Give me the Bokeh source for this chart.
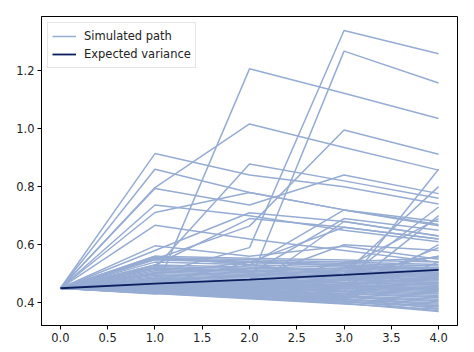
from bokeh.plotting import figure
from bokeh.models import Range1d, FixedTicker, PrintfTickFormatter
from bokeh.embed import file_html
from bokeh.resources import INLINE

steps = [0, 1, 2, 3, 4]
x_ticks = [0.0, 0.5, 1.0, 1.5, 2.0, 2.5, 3.0, 3.5, 4.0]
y_ticks = [0.4, 0.6, 0.8, 1.0, 1.2]

expected_variance = [0.450, 0.466, 0.480, 0.496, 0.513]

# upper, clearly visible simulated paths (values at steps 0..4)
paths_upper = [
    [0.45, 0.50, 0.59, 1.338, 1.258],
    [0.45, 0.47, 0.47, 1.267, 1.157],
    [0.45, 0.44, 1.206, 1.122, 1.035],
    [0.45, 0.797, 1.016, 0.935, 0.857],
    [0.45, 0.55, 0.664, 0.995, 0.912],
    [0.45, 0.914, 0.84, 0.80, 0.74],
    [0.45, 0.86, 0.78, 0.72, 0.67],
    [0.45, 0.794, 0.737, 0.84, 0.776],
    [0.45, 0.52, 0.878, 0.82, 0.76],
    [0.45, 0.737, 0.70, 0.65, 0.61],
    [0.45, 0.711, 0.78, 0.72, 0.665],
    [0.45, 0.667, 0.62, 0.58, 0.54],
    [0.45, 0.596, 0.56, 0.595, 0.55],
    [0.45, 0.58, 0.71, 0.68, 0.63],
    [0.45, 0.53, 0.69, 0.66, 0.62],
    [0.45, 0.48, 0.53, 0.72, 0.68],
    [0.45, 0.47, 0.50, 0.69, 0.65],
    [0.45, 0.46, 0.48, 0.60, 0.58],
    [0.45, 0.44, 0.43, 0.45, 0.86],
    [0.45, 0.46, 0.44, 0.50, 0.80],
    [0.45, 0.43, 0.47, 0.48, 0.73],
    [0.45, 0.48, 0.46, 0.44, 0.70],
    [0.45, 0.44, 0.45, 0.52, 0.69],
    [0.45, 0.45, 0.43, 0.42, 0.60],
    [0.45, 0.47, 0.45, 0.46, 0.59],
    [0.45, 0.46, 0.45, 0.68, 0.63],
    [0.45, 0.55, 0.54, 0.66, 0.62],
    [0.45, 0.56, 0.53, 0.50, 0.56],
]

# dense lower cluster of simulated paths (values at steps 0..4)
paths_lower = [
    [0.45, 0.432, 0.414, 0.396, 0.378],
    [0.45, 0.433, 0.416, 0.398, 0.370],
    [0.45, 0.435, 0.418, 0.402, 0.385],
    [0.45, 0.437, 0.420, 0.405, 0.390],
    [0.45, 0.438, 0.423, 0.407, 0.372],
    [0.45, 0.440, 0.425, 0.410, 0.395],
    [0.45, 0.441, 0.428, 0.412, 0.399],
    [0.45, 0.443, 0.430, 0.415, 0.380],
    [0.45, 0.444, 0.432, 0.418, 0.404],
    [0.45, 0.446, 0.434, 0.421, 0.408],
    [0.45, 0.447, 0.437, 0.424, 0.412],
    [0.45, 0.449, 0.439, 0.427, 0.388],
    [0.45, 0.450, 0.441, 0.430, 0.417],
    [0.45, 0.452, 0.444, 0.433, 0.421],
    [0.45, 0.454, 0.447, 0.437, 0.425],
    [0.45, 0.456, 0.450, 0.440, 0.430],
    [0.45, 0.458, 0.452, 0.444, 0.434],
    [0.45, 0.460, 0.455, 0.448, 0.438],
    [0.45, 0.463, 0.458, 0.451, 0.442],
    [0.45, 0.466, 0.461, 0.455, 0.447],
    [0.45, 0.469, 0.465, 0.459, 0.452],
    [0.45, 0.472, 0.468, 0.463, 0.456],
    [0.45, 0.476, 0.472, 0.467, 0.461],
    [0.45, 0.480, 0.476, 0.471, 0.466],
    [0.45, 0.485, 0.480, 0.476, 0.470],
    [0.45, 0.490, 0.485, 0.480, 0.475],
    [0.45, 0.495, 0.490, 0.484, 0.479],
    [0.45, 0.500, 0.494, 0.488, 0.483],
    [0.45, 0.505, 0.498, 0.492, 0.487],
    [0.45, 0.510, 0.503, 0.496, 0.491],
    [0.45, 0.515, 0.508, 0.501, 0.495],
    [0.45, 0.520, 0.513, 0.506, 0.499],
    [0.45, 0.525, 0.518, 0.511, 0.504],
    [0.45, 0.530, 0.523, 0.516, 0.509],
    [0.45, 0.540, 0.531, 0.522, 0.514],
    [0.45, 0.548, 0.538, 0.529, 0.520],
    [0.45, 0.552, 0.543, 0.535, 0.527],
    [0.45, 0.556, 0.548, 0.540, 0.532],
    [0.45, 0.560, 0.553, 0.547, 0.540],
    [0.45, 0.440, 0.480, 0.470, 0.460],
    [0.45, 0.436, 0.470, 0.455, 0.520],
    [0.45, 0.445, 0.500, 0.490, 0.480],
    [0.45, 0.438, 0.428, 0.480, 0.470],
    [0.45, 0.442, 0.431, 0.500, 0.490],
    [0.45, 0.448, 0.520, 0.510, 0.498],
    [0.45, 0.434, 0.424, 0.414, 0.500],
    [0.45, 0.439, 0.427, 0.418, 0.540],
    [0.45, 0.455, 0.445, 0.520, 0.505],
    [0.45, 0.462, 0.540, 0.527, 0.515],
    [0.45, 0.437, 0.426, 0.455, 0.445],
    [0.45, 0.433, 0.470, 0.460, 0.450],
    [0.45, 0.470, 0.462, 0.540, 0.555],
    [0.45, 0.500, 0.540, 0.530, 0.520],
    [0.45, 0.520, 0.510, 0.500, 0.560],
]

paths = paths_lower + paths_upper

all_vals = [v for row in paths for v in row] + expected_variance
ymin, ymax = min(all_vals), max(all_vals)
ypad = 0.05 * (ymax - ymin)

p = figure(width=474, height=352, output_backend="svg", toolbar_location=None,
           x_range=Range1d(-0.2, 4.2), y_range=Range1d(ymin - ypad, ymax + ypad),
           min_border_left=41, min_border_right=17, min_border_top=16, min_border_bottom=27)

p.multi_line([steps] * len(paths), paths, line_color="#97acd3", line_width=1.5,
             legend_label="Simulated path")
p.line(steps, expected_variance, line_color="#0b1f5e", line_width=1.8,
       legend_label="Expected variance")

p.xgrid.visible = False
p.ygrid.visible = False
p.outline_line_color = "black"
p.outline_line_width = 1
p.outline_line_alpha = 1

p.xaxis.ticker = FixedTicker(ticks=x_ticks)
p.yaxis.ticker = FixedTicker(ticks=y_ticks)
for ax in (p.xaxis, p.yaxis):
    ax.formatter = PrintfTickFormatter(format="%.1f")
    ax.major_label_text_font = "DejaVu Sans"
    ax.major_label_text_font_size = "11.5px"
    ax.major_label_text_color = "#222222"
    ax.major_tick_in = 0
    ax.major_tick_out = 4
    ax.minor_tick_out = 0
    ax.minor_tick_in = 0
    ax.axis_line_color = "black"
    ax.major_tick_line_color = "black"
    ax.major_label_standoff = 3

lg = p.legend[0]
lg.location = "top_left"
lg.margin = 6
lg.padding = 4
lg.spacing = 0
lg.glyph_width = 24
lg.glyph_height = 18
lg.label_height = 18
lg.label_standoff = 8
lg.label_text_font = "DejaVu Sans"
lg.label_text_font_size = "11.5px"
lg.label_text_color = "#222222"
lg.border_line_color = "#cccccc"
lg.border_line_width = 1
lg.background_fill_alpha = 0.85

open("out.html", "w").write(file_html(p, INLINE))
